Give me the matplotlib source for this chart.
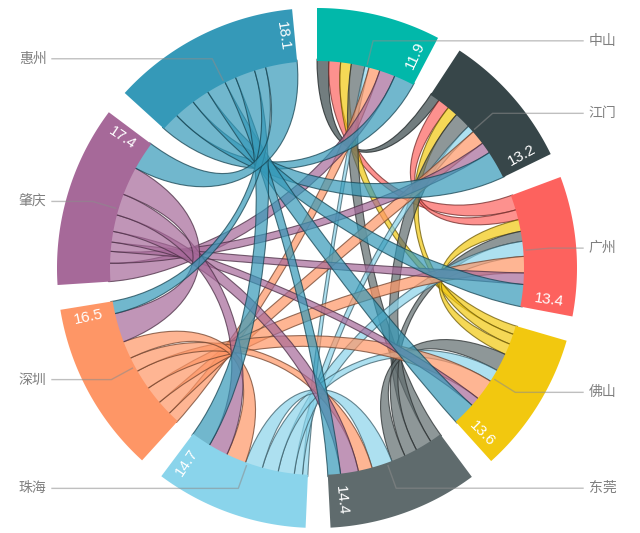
import numpy as np
import matplotlib
matplotlib.use("Agg")
import matplotlib.pyplot as plt
from matplotlib.path import Path
from matplotlib.patches import PathPatch
from matplotlib.colors import to_rgb

plt.rcParams['font.family'] = ['Noto Sans CJK SC', 'DejaVu Sans']

cities = ["中山", "江门", "广州", "佛山", "东莞", "珠海", "深圳", "肇庆", "惠州"]
totals = [11.9, 13.2, 13.4, 13.6, 14.4, 14.7, 16.5, 17.4, 18.1]
colors = ["#01B8AA", "#374649", "#FD625E", "#F2C80F", "#5F6B6D",
          "#8AD4EB", "#FE9666", "#A66999", "#3599B8"]

# flows from each city to the others, same order as cities (0 on the diagonal)
zhongshan = [0, 1.41, 1.41, 1.28, 1.63, 0.51, 1.33, 1.88, 2.45]
jiangmen = [1.20, 0, 1.41, 1.28, 1.97, 0.86, 1.75, 1.37, 3.36]
guangzhou = [1.80, 1.20, 0, 1.41, 1.20, 1.80, 1.97, 1.37, 2.65]
foshan = [1.03, 1.24, 1.33, 0, 2.14, 1.50, 2.53, 1.07, 2.76]
dongguan = [1.41, 1.97, 1.54, 1.67, 0, 2.48, 1.67, 2.14, 1.52]
zhuhai = [0.64, 0.98, 1.93, 1.93, 2.10, 0, 2.40, 2.35, 2.37]
shenzhen = [1.37, 1.75, 2.14, 2.40, 1.75, 2.10, 0, 3.50, 1.49]
zhaoqing = [2.18, 1.41, 1.11, 1.28, 2.00, 2.57, 3.43, 0, 3.42]
huizhou = [2.18, 2.53, 2.10, 2.35, 1.37, 2.40, 1.37, 3.80, 0]
flows = [zhongshan, jiangmen, guangzhou, foshan, dongguan,
         zhuhai, shenzhen, zhaoqing, huizhou]

cx, cy = 317, 268
r_outer = 260
r_inner = 207
r_ribbon = r_inner + 2  # tucked under the ring so no outline shows at the ends
r_control = r_inner * 0.5
r_value = 234
r_elbow = 234
gap = 5.5
scale = (360 - gap * len(cities)) / sum(totals)


def polar(angle, r):
    # angle in degrees, clockwise from twelve o'clock, y axis points down
    a = np.radians(angle)
    return cx + r * np.sin(a), cy - r * np.cos(a)


def arc(a0, a1, r):
    n = max(int(abs(a1 - a0)) * 2, 3)
    return [polar(a, r) for a in np.linspace(a0, a1, n)]


def ribbon_path(s0, s1, t0, t1):
    verts = arc(s0, s1, r_ribbon)
    codes = [Path.MOVETO] + [Path.LINETO] * (len(verts) - 1)
    verts += [polar(s1, r_control), polar(t0, r_control), polar(t0, r_ribbon)]
    codes += [Path.CURVE4] * 3
    target = arc(t0, t1, r_ribbon)[1:]
    verts += target
    codes += [Path.LINETO] * len(target)
    verts += [polar(t1, r_control), polar(s0, r_control), polar(s0, r_ribbon)]
    codes += [Path.CURVE4] * 3
    return Path(verts, codes)


fig = plt.figure(figsize=(6.4, 5.33), dpi=100)
ax = fig.add_axes([0, 0, 1, 1])
ax.set_xlim(0, 640)
ax.set_ylim(533, 0)
ax.axis("off")

# work out where each sector and each slot inside it sits
starts = []
slots = {}
angle = 0
for i in range(len(cities)):
    starts.append(angle)
    pos = angle
    for j in range(len(cities)):
        slots[(i, j)] = (pos, pos + flows[i][j] * scale)
        pos += flows[i][j] * scale
    angle += totals[i] * scale + gap

# ribbons take the colour of the later city of each pair
for i in range(len(cities)):
    rgb = to_rgb(colors[i])
    edge = tuple(c * 0.45 for c in rgb) + (0.75,)
    for j in range(i):
        s0, s1 = slots[(i, j)]
        t0, t1 = slots[(j, i)]
        ax.add_patch(PathPatch(ribbon_path(s0, s1, t0, t1),
                               facecolor=rgb + (0.7,), edgecolor=edge,
                               linewidth=0.8, zorder=2))

for i, name in enumerate(cities):
    a0 = starts[i]
    a1 = a0 + totals[i] * scale
    verts = arc(a0, a1, r_outer) + arc(a1, a0, r_inner)
    ax.fill([v[0] for v in verts], [v[1] for v in verts],
            color=colors[i], linewidth=0, zorder=3)

    # leader line, then the city name
    mid = (a0 + a1) / 2
    p0 = polar(mid, r_inner + 3)
    p1 = polar(mid, r_elbow)
    right = mid < 180
    x_end = 583 if right else 52
    ax.plot([p0[0], p1[0], x_end], [p0[1], p1[1], p1[1]],
            color="#8c8c8c", alpha=0.55, linewidth=1, zorder=4)
    ax.text(588.5 if right else 46.5, p1[1], name, color="#7f7f7f", fontsize=10,
            ha="left" if right else "right", va="center", zorder=5)

    # value written across the ring near the end of the sector
    tx, ty = polar(a1 - 2.9, r_value)
    rot = 90 - (a1 - 2.9)
    if rot < -90:
        rot += 180
    ax.text(tx, ty, str(totals[i]), color="white", fontsize=11,
            family="Liberation Sans", rotation=rot, rotation_mode="anchor",
            ha="center", va="center", zorder=5)

fig.savefig("out.png", dpi=100)
